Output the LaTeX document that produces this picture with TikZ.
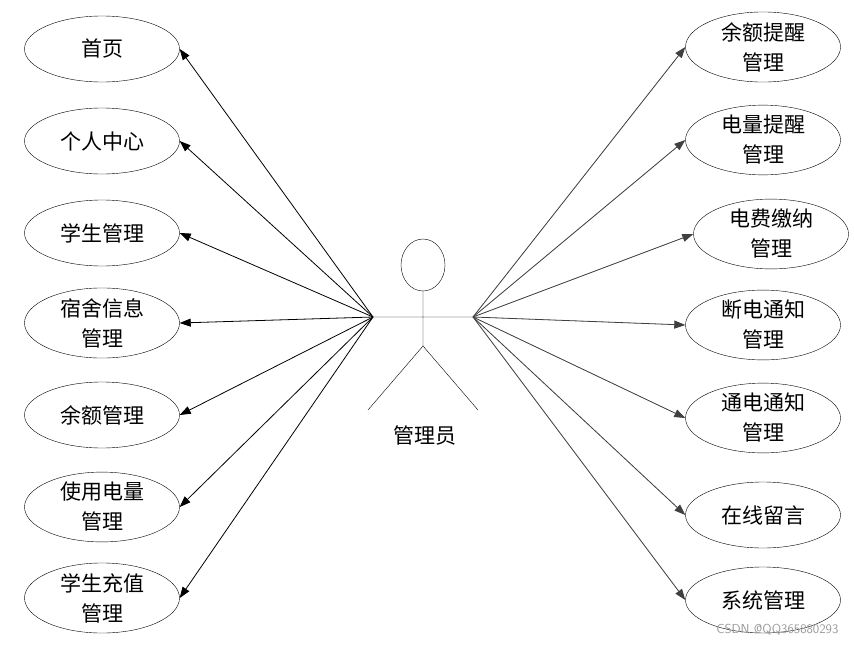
\documentclass[tikz,border=0pt]{standalone}
\usepackage{fontspec}
\newfontfamily\cjk{Noto Sans CJK SC}
\usetikzlibrary{shapes.geometric,arrows.meta}
\begin{document}
\begin{tikzpicture}[x=1pt,y=-1pt,
  uc/.style={draw,ellipse,minimum width=155pt,minimum height=66pt,inner sep=0pt,align=center,font=\cjk\fontsize{21}{30}\selectfont},
  con/.style={-{Triangle[length=11pt,width=8pt]},line width=0.8pt}]
\useasboundingbox (0,0) rectangle (854,648);
\node[uc] (l1) at (102,49) {首页};
\node[uc] (l2) at (102,141) {个人中心};
\node[uc] (l3) at (102,233) {学生管理};
\node[uc] (l4) at (102,323) {宿舍信息\\管理};
\node[uc] (l5) at (102,415) {余额管理};
\node[uc] (l6) at (102,507) {使用电量\\管理};
\node[uc] (l7) at (102,598) {学生充值\\管理};
\node[uc] (r1) at (763,47) {余额提醒\\管理};
\node[uc] (r2) at (763,140) {电量提醒\\管理};
\node[uc] (r3) at (771,234) {电费缴纳\\管理};
\node[uc] (r4) at (763,325) {断电通知\\管理};
\node[uc] (r5) at (763,418) {通电通知\\管理};
\node[uc] (r6) at (763,515) {在线留言};
\node[uc] (r7) at (763,600) {系统管理};
% actor
\node[draw,ellipse,minimum width=44pt,minimum height=52pt,inner sep=0pt] (head) at (423,265) {};
\coordinate (hip) at (423,346);
\coordinate (al) at (373,317);
\coordinate (ar) at (473,317);
\coordinate (fl) at (368,410);
\coordinate (fr) at (478,410);
\draw (head.south) -- (hip) (al) -- (ar) (hip) -- (fl) (hip) -- (fr);
\node[font=\cjk\fontsize{21}{26}\selectfont] (lab) at (425,436) {管理员};
\foreach \i in {1,...,7}{\draw[con] (al) -- (l\i.east);}
\foreach \i in {1,...,7}{\draw[con,draw=black!75,fill=black!75] (ar) -- (r\i.west);}
\node[font=\sffamily\fontsize{13}{15}\selectfont,text=black!40,anchor=east] (wm) at (842,630) {CSDN @QQ365880293};
\end{tikzpicture}
\end{document}
